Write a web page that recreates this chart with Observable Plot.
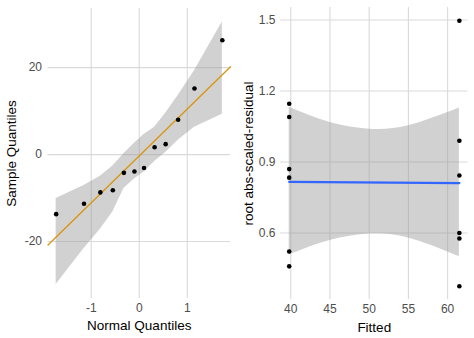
<!DOCTYPE html>
<html><head><meta charset="utf-8">
<script src="https://cdn.jsdelivr.net/npm/d3@7"></script>
<script src="https://cdn.jsdelivr.net/npm/@observablehq/plot@0.6"></script>
<style>
body{margin:0;background:#fff}
#wrap{display:flex;width:474px;height:338px}
</style>
</head><body><div id="wrap"></div>
<script>
// Left panel: normal Q-Q plot
const qqTheoretical = [-1.73,-1.15,-0.81,-0.55,-0.32,-0.10,0.10,0.32,0.55,0.81,1.15,1.73];
const qqSample      = [-13.7,-11.3,-8.7,-8.2,-4.2,-3.9,-3.1,1.7,2.4,8.0,15.2,26.3];
const qqBandUpper   = [-10.1,-7.1,-5.0,-2.6,0.2,2.6,4.6,6.3,9.5,13.6,19.3,30.5];
const qqBandLower   = [-29.9,-21.6,-17.2,-13.2,-7.8,-5.6,-4.0,-1.6,0.5,3.3,6.3,9.3];
const qqLineX = [-1.9, 1.9];
const qqLineY = [-20.8, 20.2];
const qqXTicks = [-1, 0, 1];
const qqYTicks = [-20, 0, 20];

// Right panel: scale-location plot
const slFitted     = [39.8,39.8,39.8,39.8,39.8,39.8,61.5,61.5,61.5,61.5,61.5,61.5];
const slRootResid  = [1.146,1.090,0.870,0.834,0.522,0.459,1.497,0.990,0.843,0.600,0.577,0.375];
const slBandX      = [39.8,45,50,55,61.5];
const slBandUpper  = [1.131,1.067,1.039,1.053,1.128];
const slBandLower  = [0.507,0.568,0.596,0.579,0.500];
const slFitX = [39.8, 61.5];
const slFitY = [0.816, 0.811];
const slXTicks = [40,45,50,55,60];
const slYTicks = [0.6,0.9,1.2,1.5];

const FONT = "'Liberation Sans', Arial, sans-serif";
const GRID = "#dadada";
const TICKCOL = "#4d4d4d";

const qqPts = qqTheoretical.map((q,i)=>({q, s: qqSample[i]}));
const qqBand = qqTheoretical.map((q,i)=>({q, lo: qqBandLower[i], hi: qqBandUpper[i]}));
const qqLine = qqLineX.map((x,i)=>({x, y: qqLineY[i]}));

const slPts = slFitted.map((f,i)=>({f, r: slRootResid[i]}));
const slBand = slBandX.map((x,i)=>({x, lo: slBandLower[i], hi: slBandUpper[i]}));
const slFit = slFitX.map((x,i)=>({x, y: slFitY[i]}));

const axisCommon = {tickSize: 0, fontSize: 12, fill: TICKCOL, labelArrow: "none", labelAnchor: "center"};

const left = Plot.plot({
  width: 237, height: 338,
  marginLeft: 47.5, marginRight: 7, marginTop: 8, marginBottom: 40,
  style: {fontFamily: FONT, fontSize: "12px", background: "#fff"},
  x: {domain: [-1.9, 1.9]},
  y: {domain: [-33.1, 33.6]},
  marks: [
    Plot.gridX(qqXTicks, {stroke: GRID, strokeOpacity: 1, strokeWidth: 1.1}),
    Plot.gridY(qqYTicks, {stroke: GRID, strokeOpacity: 1, strokeWidth: 1.1}),
    Plot.areaY(qqBand, {x: "q", y1: "lo", y2: "hi", fill: "#999", fillOpacity: 0.45}),
    Plot.line(qqLine, {x: "x", y: "y", stroke: "#d9950f", strokeWidth: 1.3}),
    Plot.dot(qqPts, {x: "q", y: "s", r: 2.3, fill: "#000", stroke: "none"}),
    Plot.axisX(qqXTicks, {...axisCommon, tickPadding: 5, tickFormat: d => String(d), label: null}),
    Plot.axisY(qqYTicks, {...axisCommon, tickPadding: 6, tickFormat: d => String(d), label: null}),
    Plot.axisX({ticks: [], label: "Normal Quantiles", labelAnchor: "center", labelArrow: "none", labelOffset: 31, fontSize: 13.5, fill: "#000"}),
    Plot.axisY({ticks: [], label: "Sample Quantiles", labelAnchor: "center", labelArrow: "none", labelOffset: 41.5, fontSize: 13.5, fill: "#000"})
  ]
});

const right = Plot.plot({
  width: 237, height: 338,
  marginLeft: 43, marginRight: 6.5, marginTop: 7, marginBottom: 39,
  style: {fontFamily: FONT, fontSize: "12px", background: "#fff"},
  x: {domain: [38.69, 62.6]},
  y: {domain: [0.319, 1.553]},
  marks: [
    Plot.gridX(slXTicks, {stroke: GRID, strokeOpacity: 1, strokeWidth: 1.1}),
    Plot.gridY(slYTicks, {stroke: GRID, strokeOpacity: 1, strokeWidth: 1.1}),
    Plot.areaY(slBand, {x: "x", y1: "lo", y2: "hi", curve: "natural", fill: "#999", fillOpacity: 0.45}),
    Plot.line(slFit, {x: "x", y: "y", stroke: "#3366ff", strokeWidth: 2.2}),
    Plot.dot(slPts, {x: "f", y: "r", r: 2.3, fill: "#000", stroke: "none"}),
    Plot.axisX(slXTicks, {...axisCommon, tickPadding: 5, tickFormat: d => String(d), label: null}),
    Plot.axisY(slYTicks, {...axisCommon, tickPadding: 5, tickFormat: d3.format(".1f"), label: null}),
    Plot.axisX({ticks: [], label: "Fitted", labelAnchor: "center", labelArrow: "none", labelOffset: 32, fontSize: 13.5, fill: "#000"}),
    Plot.axisY({ticks: [], label: "root abs-scaled-residual", labelAnchor: "center", labelArrow: "none", labelOffset: 37.5, fontSize: 13.5, fill: "#000"})
  ]
});

const wrap = document.getElementById("wrap");
wrap.appendChild(left);
wrap.appendChild(right);
</script>
</body></html>
